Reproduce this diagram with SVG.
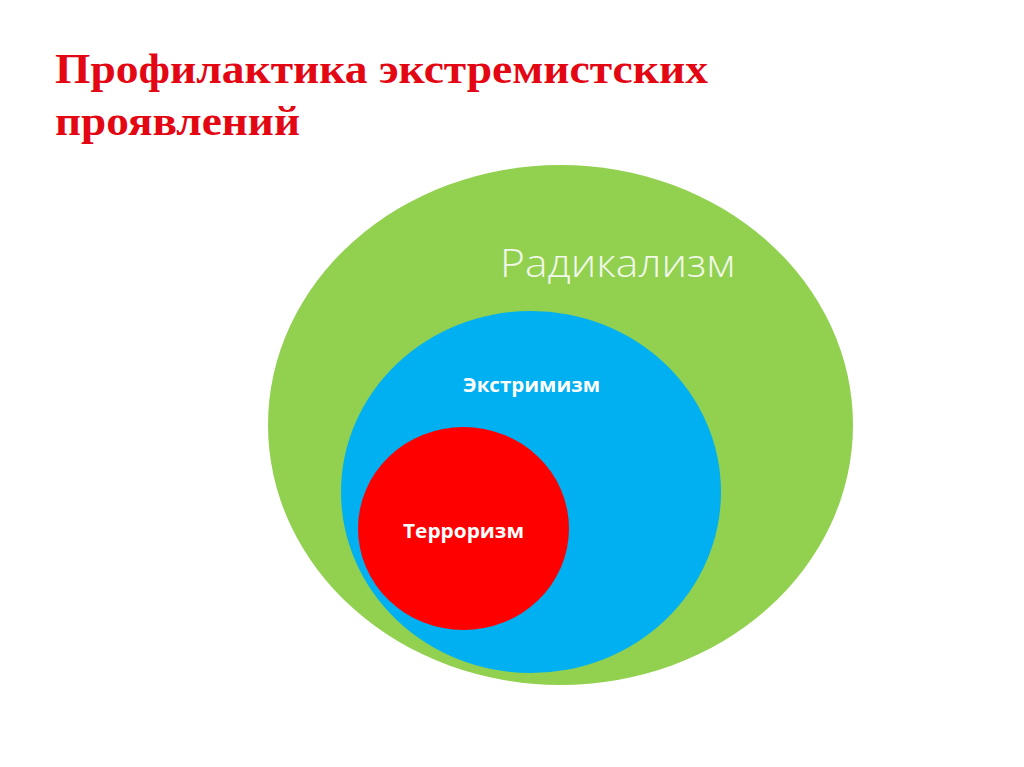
<svg xmlns="http://www.w3.org/2000/svg" width="1024" height="767" viewBox="0 0 1024 767">
<style>
.title{font-family:"Liberation Serif","Times New Roman",serif;font-weight:bold;font-size:42px;fill:#e30613}
.lbl{font-family:"Open Sans","Noto Sans",sans-serif;font-weight:bold;font-size:19px;fill:#ffffff}
.big{font-family:"Open Sans","Noto Sans",sans-serif;font-weight:300;font-size:38px;fill:#f2f8ea}
</style>
<rect width="1024" height="767" fill="#ffffff"/>
<g id="title">
<text class="title" x="55" y="83" textLength="653" lengthAdjust="spacingAndGlyphs">Профилактика экстремистских</text>
<text class="title" x="55" y="135" textLength="245" lengthAdjust="spacingAndGlyphs">проявлений</text>
</g>
<g id="radicalism">
<ellipse cx="560.5" cy="425" rx="292.5" ry="260" fill="#92d050"/>
<text class="big" x="500" y="277" textLength="235" lengthAdjust="spacingAndGlyphs">Радикализм</text>
</g>
<g id="extremism">
<ellipse cx="531" cy="492" rx="190" ry="181" fill="#00b0f0"/>
<text class="lbl" x="463" y="392" textLength="137" lengthAdjust="spacingAndGlyphs">Экстримизм</text>
</g>
<g id="terrorism">
<ellipse cx="463.5" cy="528.5" rx="105.5" ry="101.5" fill="#ff0000"/>
<text class="lbl" x="403" y="538" textLength="121" lengthAdjust="spacingAndGlyphs">Терроризм</text>
</g>
<g id="connectors"></g>
</svg>
